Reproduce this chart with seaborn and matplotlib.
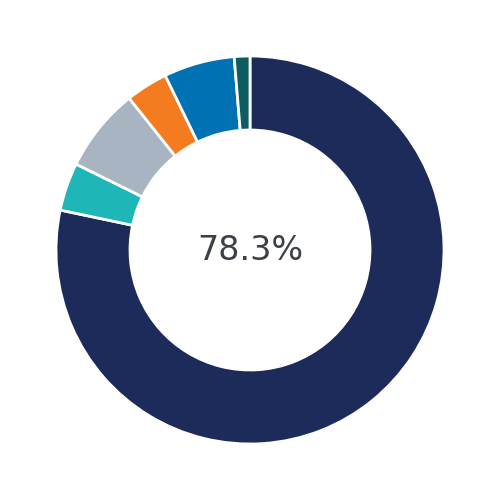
import matplotlib
matplotlib.use("Agg")
import matplotlib.pyplot as plt
import seaborn as sns

sns.set_theme(style="white")

labels = ["Main", "Teal", "Gray", "Orange", "Blue", "Dark teal"]
values = [78.3, 4.0, 7.0, 3.5, 5.9, 1.3]
colors = ["#1c2b5a", "#1fb6b8", "#a9b4c2", "#f47b20", "#0071b3", "#0d5c60"]

fig, ax = plt.subplots(figsize=(5, 5), dpi=100)
ax.pie(values, colors=colors, startangle=90, counterclock=False,
       radius=0.97, wedgeprops=dict(width=0.37, edgecolor="white", linewidth=2))
ax.text(0, 0, "78.3%", ha="center", va="center", fontsize=24, color="#3b3f48")
ax.set_aspect("equal")
plt.subplots_adjust(left=0, right=1, top=1, bottom=0)
fig.savefig("out.png")
